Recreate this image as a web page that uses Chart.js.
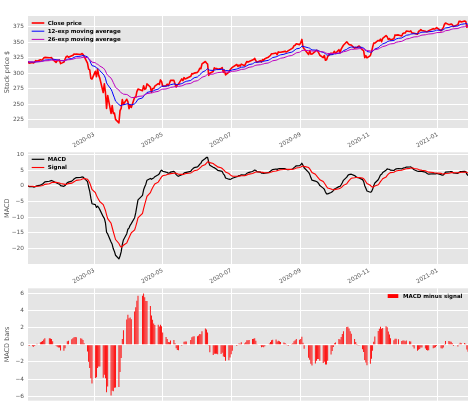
<!DOCTYPE html>
<html><head><meta charset="utf-8">
<script src="https://cdn.jsdelivr.net/npm/chart.js@4.4.1/dist/chart.umd.min.js"></script>
<style>
html,body{margin:0;padding:0;background:#fff;}
#wrap{position:relative;width:474px;height:408px;overflow:hidden;background:#fff;}
canvas{position:absolute;left:0;}
</style></head><body>
<div id="wrap">
<canvas id="c1" width="474" height="152" style="top:0px"></canvas>
<canvas id="c2" width="474" height="136" style="top:152px"></canvas>
<canvas id="c3" width="474" height="120" style="top:288px"></canvas>
</div>
<script>
// ---- data (SPY daily close, trading days 2020-01-02 .. 2021-01-28) ----
const firstDay = '2020-01-02';
const lastDay = '2021-01-28';
const holidays = ['2020-01-20','2020-02-17','2020-04-10','2020-05-25','2020-07-03','2020-09-07','2020-11-26','2020-12-25','2021-01-01','2021-01-18'];
const monthTicks = ['2020-03','2020-05','2020-07','2020-09','2020-11','2021-01'];
const priceTicks = [225,250,275,300,325,350,375];
const macdTicks = [-20,-15,-10,-5,0,5,10];
const barTicks = [-6,-4,-2,0,2,4,6];

const closePrice = [
318.9,316.5,317.7,316.8,318.5,320.7,319.7,321.9,321.5,322.2,324.9,325.9,325.2,325.3,325.6,322.7,317.6,320.9,320.6,321.7,315.8,
318.2,323.0,326.8,327.9,326.1,328.6,329.1,331.2,330.9,331.4,330.6,332.1,330.8,327.4,316.5,306.9,305.8,292.1,290.8,
303.4,294.7,307.1,296.9,292.0,269.2,283.1,269.3,243.6,264.4,235.5,248.2,235.6,236.1,225.9,220.2,240.1,243.7,257.9,250.3,258.4,254.5,
243.1,248.7,245.1,261.5,261.8,270.6,274.7,272.2,280.2,274.3,275.6,283.1,278.1,269.6,275.6,275.6,279.4,283.5,282.2,289.5,286.9,
279.3,280.0,282.6,280.7,284.1,288.8,288.8,283.1,278.1,281.5,282.7,291.3,288.3,293.2,291.2,291.7,295.3,299.7,299.2,300.5,
301.7,304.2,308.3,307.5,315.3,319.2,316.8,315.0,296.9,300.4,303.2,309.0,307.8,307.9,306.7,308.1,309.5,301.6,304.8,297.6,302.0,305.8,
308.0,309.7,314.4,311.2,313.6,311.8,315.0,312.3,316.3,319.2,318.2,319.1,321.7,322.3,324.2,320.3,318.2,320.6,318.5,322.5,321.3,323.8,
326.1,327.4,329.4,331.6,331.8,332.8,330.1,334.7,334.1,334.1,335.1,335.9,334.5,335.5,336.7,340.1,341.3,344.7,345.5,347.7,346.4,
349.7,354.8,342.6,339.8,330.5,337.0,331.2,331.3,335.7,337.4,336.0,333.1,329.3,325.6,328.9,321.3,322.1,327.4,332.8,331.0,333.5,
335.6,332.4,338.3,333.5,339.3,342.3,345.4,351.0,348.7,346.5,346.0,345.8,340.6,341.9,341.3,343.2,344.3,338.0,336.8,325.3,328.6,325.2,
328.8,334.6,342.1,348.8,348.7,353.1,352.5,355.2,351.1,356.6,361.0,359.1,354.8,356.3,353.8,356.0,362.1,361.7,362.1,360.5,
364.5,365.2,365.1,368.3,367.5,368.6,365.3,365.2,364.8,363.1,368.0,368.6,370.7,369.2,367.9,367.2,367.6,369.0,372.2,371.5,372.0,373.9,
368.8,371.3,373.6,379.1,381.3,378.7,378.8,379.8,378.5,375.7,378.7,383.9,384.2,382.9,384.4,383.8,374.4,377.6];

const ema12 = [
318.9,318.5,318.4,318.2,318.2,318.6,318.8,319.2,319.6,320.0,320.7,321.5,322.1,322.6,323.1,323.0,322.2,322.0,321.8,321.8,320.8,
320.4,320.8,321.7,322.7,323.2,324.0,324.8,325.8,326.6,327.3,327.8,328.5,328.8,328.6,326.8,323.7,320.9,316.5,312.6,
311.1,308.6,308.4,306.6,304.4,299.0,296.5,292.3,284.8,281.7,274.6,270.5,265.2,260.7,255.3,249.9,248.4,247.7,249.3,249.4,250.8,251.4,
250.1,249.9,249.1,251.0,252.7,255.5,258.4,260.5,263.6,265.2,266.8,269.3,270.7,270.5,271.3,272.0,273.1,274.7,275.9,278.0,279.3,
279.3,279.4,279.9,280.0,280.7,281.9,283.0,283.0,282.2,282.1,282.2,283.6,284.3,285.7,286.5,287.3,288.6,290.3,291.6,293.0,
294.3,295.9,297.8,299.3,301.7,304.4,306.3,307.7,306.0,305.1,304.8,305.5,305.8,306.2,306.2,306.5,307.0,306.2,305.9,304.7,304.3,304.5,
305.0,305.7,307.1,307.7,308.6,309.1,310.0,310.4,311.3,312.5,313.4,314.3,315.4,316.5,317.7,318.1,318.1,318.5,318.5,319.1,319.4,320.1,
321.0,322.0,323.1,324.4,325.6,326.7,327.2,328.4,329.2,330.0,330.8,331.6,332.0,332.6,333.2,334.3,335.3,336.8,338.1,339.6,340.6,
342.0,344.0,343.8,343.2,341.2,340.6,339.1,337.9,337.6,337.6,337.3,336.7,335.5,334.0,333.2,331.4,330.0,329.6,330.1,330.2,330.7,
331.5,331.6,332.6,332.8,333.8,335.1,336.7,338.9,340.4,341.3,342.0,342.6,342.3,342.3,342.1,342.3,342.6,341.9,341.1,338.7,337.1,335.3,
334.3,334.3,335.5,337.6,339.3,341.4,343.1,345.0,345.9,347.6,349.6,351.1,351.7,352.4,352.6,353.1,354.5,355.6,356.6,357.2,
358.3,359.4,360.3,361.5,362.4,363.4,363.7,363.9,364.0,363.9,364.5,365.2,366.0,366.5,366.7,366.8,366.9,367.2,368.0,368.5,369.1,369.8,
369.7,369.9,370.5,371.8,373.3,374.1,374.8,375.6,376.0,376.0,376.4,377.6,378.6,379.2,380.0,380.6,379.7,379.3];

const ema26 = [
318.9,318.7,318.6,318.5,318.5,318.7,318.7,319.0,319.2,319.4,319.8,320.3,320.6,321.0,321.3,321.4,321.1,321.1,321.1,321.1,320.7,
320.5,320.7,321.2,321.7,322.0,322.5,323.0,323.6,324.1,324.7,325.1,325.6,326.0,326.1,325.4,324.0,322.7,320.4,318.2,
317.1,315.5,314.8,313.5,311.9,308.8,306.9,304.1,299.6,297.0,292.4,289.2,285.2,281.6,277.4,273.2,270.7,268.7,267.9,266.6,266.0,265.2,
263.5,262.4,261.1,261.2,261.2,261.9,262.9,263.6,264.8,265.5,266.2,267.5,268.3,268.4,268.9,269.4,270.1,271.1,272.0,273.3,274.3,
274.6,275.0,275.6,276.0,276.6,277.5,278.3,278.7,278.6,278.8,279.1,280.0,280.6,281.6,282.3,283.0,283.9,285.1,286.1,287.2,
288.3,289.4,290.8,292.1,293.8,295.7,297.2,298.6,298.4,298.6,298.9,299.7,300.3,300.8,301.3,301.8,302.3,302.3,302.5,302.1,302.1,302.4,
302.8,303.3,304.1,304.7,305.3,305.8,306.5,306.9,307.6,308.5,309.2,309.9,310.8,311.6,312.6,313.1,313.5,314.0,314.4,315.0,315.4,316.1,
316.8,317.6,318.5,319.4,320.4,321.3,321.9,322.9,323.7,324.5,325.3,326.1,326.7,327.3,328.0,328.9,329.8,330.9,332.0,333.2,334.2,
335.3,336.8,337.2,337.4,336.9,336.9,336.5,336.1,336.1,336.2,336.1,335.9,335.4,334.7,334.3,333.3,332.5,332.1,332.2,332.1,332.2,
332.4,332.4,332.9,332.9,333.4,334.0,334.9,336.1,337.0,337.7,338.3,338.9,339.0,339.2,339.4,339.7,340.0,339.9,339.6,338.6,337.8,336.9,
336.3,336.2,336.6,337.5,338.3,339.4,340.4,341.5,342.2,343.3,344.6,345.7,346.3,347.1,347.6,348.2,349.2,350.2,351.0,351.7,
352.7,353.6,354.5,355.5,356.4,357.3,357.9,358.4,358.9,359.2,359.9,360.5,361.3,361.8,362.3,362.7,363.0,363.5,364.1,364.7,365.2,365.8,
366.1,366.5,367.0,367.9,368.9,369.6,370.3,371.0,371.5,371.9,372.4,373.2,374.0,374.7,375.4,376.0,375.9,376.0];

const macd = [
0,-0.19,-0.24,-0.35,-0.30,-0.08,0.02,0.27,0.43,0.60,0.95,1.29,1.49,1.63,1.75,1.59,1.04,0.86,0.69,0.63,0.11,
-0.11,0.11,0.58,1.02,1.22,1.56,1.85,2.22,2.46,2.66,2.73,2.87,2.84,2.51,1.36,-0.33,-1.73,-3.90,-5.67,
-5.98,-6.84,-6.46,-6.90,-7.55,-9.80,-10.34,-11.74,-14.76,-15.30,-17.85,-18.63,-20.04,-20.87,-22.10,-23.27,-22.33,-21.05,-18.68,-17.21,-15.22,-13.80,
-13.43,-12.55,-12.00,-10.13,-8.52,-6.46,-4.45,-3.02,-1.23,-0.28,0.57,1.83,2.39,2.13,2.38,2.55,2.95,3.56,3.90,4.70,5.06,
4.69,4.39,4.32,4.06,4.09,4.43,4.65,4.32,3.61,3.28,3.08,3.58,3.69,4.12,4.26,4.35,4.67,5.21,5.54,5.83,
6.09,6.43,6.94,7.20,7.95,8.75,9.09,9.11,7.58,6.57,5.93,5.82,5.57,5.32,4.97,4.75,4.64,3.87,3.47,2.55,2.15,2.11,
2.23,2.44,2.95,3.06,3.30,3.31,3.54,3.46,3.67,4.03,4.19,4.34,4.61,4.82,5.08,4.91,4.56,4.42,4.10,4.12,3.99,4.04,
4.22,4.42,4.68,5.01,5.22,5.41,5.28,5.49,5.54,5.52,5.51,5.51,5.34,5.22,5.17,5.33,5.50,5.84,6.10,6.42,6.48,
6.73,7.25,6.60,5.79,4.35,3.69,2.67,1.85,1.53,1.41,1.18,0.75,0.11,-0.69,-1.05,-1.92,-2.52,-2.54,-2.09,-1.86,-1.46,
-0.96,-0.82,-0.22,-0.14,0.39,1.04,1.79,2.80,3.38,3.61,3.72,3.74,3.30,3.03,2.73,2.61,2.58,2.02,1.47,0.10,-0.71,-1.61,
-2.01,-1.83,-1.08,0.06,0.94,1.98,2.71,3.48,3.71,4.29,5.04,5.42,5.32,5.29,5.02,4.92,5.27,5.45,5.57,5.47,
5.64,5.77,5.80,6.01,6.05,6.09,5.79,5.49,5.15,4.69,4.67,4.65,4.75,4.65,4.42,4.13,3.89,3.77,3.89,3.88,3.87,3.97,
3.59,3.46,3.49,3.92,4.39,4.50,4.54,4.60,4.49,4.13,4.04,4.34,4.55,4.56,4.63,4.59,3.75,3.31];

const signal = [
0,-0.04,-0.08,-0.13,-0.17,-0.15,-0.12,-0.04,0.05,0.16,0.32,0.51,0.71,0.89,1.06,1.17,1.14,1.09,1.01,0.93,0.77,
0.59,0.50,0.51,0.61,0.74,0.90,1.09,1.32,1.54,1.77,1.96,2.14,2.28,2.33,2.13,1.64,0.97,-0.01,-1.14,
-2.11,-3.05,-3.74,-4.37,-5.00,-5.96,-6.84,-7.82,-9.21,-10.43,-11.91,-13.25,-14.61,-15.86,-17.11,-18.34,-19.14,-19.52,-19.35,-18.92,-18.18,-17.31,
-16.53,-15.74,-14.99,-14.02,-12.92,-11.63,-10.19,-8.76,-7.25,-5.86,-4.57,-3.29,-2.15,-1.30,-0.56,0.06,0.64,1.22,1.76,2.35,2.89,
3.25,3.48,3.65,3.73,3.80,3.93,4.07,4.12,4.02,3.87,3.71,3.69,3.69,3.77,3.87,3.97,4.11,4.33,4.57,4.82,
5.08,5.35,5.67,5.97,6.37,6.85,7.29,7.66,7.64,7.43,7.13,6.86,6.61,6.35,6.08,5.81,5.58,5.23,4.88,4.41,3.96,3.59,
3.32,3.14,3.10,3.10,3.14,3.17,3.24,3.29,3.36,3.50,3.64,3.78,3.94,4.12,4.31,4.43,4.46,4.45,4.38,4.33,4.26,4.22,
4.22,4.26,4.34,4.47,4.62,4.78,4.88,5.00,5.11,5.19,5.25,5.31,5.31,5.29,5.27,5.28,5.33,5.43,5.56,5.73,5.88,
6.05,6.29,6.35,6.24,5.86,5.43,4.88,4.27,3.72,3.26,2.84,2.43,1.96,1.43,0.94,0.37,-0.21,-0.68,-0.96,-1.14,-1.20,
-1.16,-1.09,-0.92,-0.76,-0.53,-0.21,0.19,0.71,1.24,1.72,2.12,2.44,2.61,2.70,2.70,2.68,2.66,2.54,2.32,1.88,1.36,0.77,
0.21,-0.20,-0.38,-0.29,-0.04,0.36,0.83,1.36,1.83,2.32,2.87,3.38,3.77,4.07,4.26,4.39,4.57,4.74,4.91,5.02,
5.15,5.27,5.38,5.50,5.61,5.71,5.73,5.68,5.57,5.40,5.25,5.13,5.06,4.97,4.86,4.72,4.55,4.40,4.29,4.21,4.14,4.11,
4.00,3.89,3.81,3.84,3.95,4.06,4.15,4.24,4.29,4.26,4.22,4.24,4.30,4.35,4.41,4.44,4.31,4.11];

const macdBars = [
0,-0.15,-0.16,-0.22,-0.13,0.07,0.13,0.31,0.37,0.44,0.63,0.78,0.78,0.74,0.69,0.42,-0.10,-0.22,-0.32,-0.30,-0.66,
-0.70,-0.39,0.06,0.41,0.49,0.66,0.76,0.90,0.92,0.89,0.77,0.72,0.56,0.19,-0.77,-1.97,-2.70,-3.90,-4.53,
-3.87,-3.79,-2.72,-2.53,-2.55,-3.84,-3.50,-3.92,-5.55,-4.87,-5.94,-5.38,-5.43,-5.01,-4.99,-4.93,-3.19,-1.53,0.68,1.71,2.96,3.51,
3.10,3.19,2.99,3.89,4.40,5.17,5.74,5.74,6.02,5.58,5.14,5.12,4.55,3.43,2.94,2.49,2.31,2.34,2.14,2.35,2.17,
1.44,0.92,0.68,0.33,0.29,0.51,0.58,0.20,-0.41,-0.59,-0.63,-0.11,0.00,0.35,0.39,0.39,0.56,0.88,0.97,1.01,
1.02,1.08,1.28,1.23,1.58,1.91,1.80,1.45,-0.07,-0.86,-1.20,-1.05,-1.03,-1.03,-1.10,-1.06,-0.94,-1.37,-1.41,-1.87,-1.81,-1.48,
-1.09,-0.70,-0.15,-0.04,0.17,0.14,0.29,0.17,0.31,0.54,0.55,0.56,0.67,0.70,0.77,0.48,0.11,-0.03,-0.28,-0.21,-0.27,-0.17,
0.00,0.16,0.34,0.53,0.60,0.63,0.40,0.49,0.43,0.33,0.26,0.21,0.03,-0.07,-0.10,0.05,0.18,0.41,0.54,0.68,0.60,
0.67,0.95,0.25,-0.45,-1.51,-1.74,-2.21,-2.42,-2.19,-1.85,-1.67,-1.67,-1.85,-2.12,-1.98,-2.29,-2.31,-1.86,-1.13,-0.72,-0.26,
0.19,0.27,0.69,0.62,0.92,1.26,1.60,2.09,2.13,1.90,1.60,1.30,0.69,0.33,0.02,-0.07,-0.08,-0.51,-0.85,-1.78,-2.07,-2.38,
-2.22,-1.64,-0.70,0.35,0.99,1.61,1.88,2.12,1.88,1.97,2.18,2.05,1.55,1.22,0.76,0.53,0.70,0.71,0.66,0.45,
0.50,0.50,0.42,0.51,0.43,0.38,0.07,-0.19,-0.42,-0.70,-0.58,-0.48,-0.31,-0.32,-0.44,-0.59,-0.66,-0.63,-0.41,-0.33,-0.27,-0.14,
-0.41,-0.44,-0.32,0.09,0.44,0.44,0.39,0.36,0.20,-0.13,-0.18,0.10,0.25,0.20,0.22,0.14,-0.55,-0.80];

// ---- calendar of trading days (x positions in days since firstDay) ----
const DAY = 86400000;
function utc(s) { const p = s.split('-').map(Number); return Date.UTC(p[0], p[1] - 1, p[2] || 1); }
const t0 = utc(firstDay);
const dayNum = s => (utc(s) - t0) / DAY;
const tradingDays = [];
for (let t = 0; t <= dayNum(lastDay); t++) {
  const d = new Date(t0 + t * DAY);
  const iso = d.toISOString().slice(0, 10);
  const wd = d.getUTCDay();
  if (wd === 0 || wd === 6 || holidays.includes(iso)) continue;
  tradingDays.push(iso);
}
const xs = tradingDays.map(dayNum);
const pts = arr => arr.map((v, i) => ({x: xs[i], y: v}));
const monthX = monthTicks.map(m => dayNum(m + '-01'));
const xMax = dayNum(lastDay);

// ---- styling ----
Chart.defaults.font.family = "'DejaVu Sans', sans-serif";
const FONT = "'DejaVu Sans', sans-serif";
const fmt = v => (v < 0 ? '\u2212' + Math.abs(v) : String(v));

const bgPlugin = {
  id: 'bgPlugin',
  beforeDraw(chart) {
    const {ctx, chartArea: a} = chart;
    ctx.save();
    ctx.fillStyle = '#E5E5E5';
    ctx.fillRect(a.left, a.top, a.right - a.left, a.bottom - a.top);
    ctx.restore();
  }
};

const lineLegend = {
  id: 'lineLegend',
  afterDraw(chart) {
    const {ctx, chartArea: a} = chart;
    ctx.save();
    ctx.font = 'bold 5.5px ' + FONT;
    ctx.textBaseline = 'middle';
    ctx.textAlign = 'left';
    chart.data.datasets.forEach((ds, i) => {
      const y = a.top + 7 + i * 8.2;
      const x0 = a.left + 3.7;
      ctx.strokeStyle = ds.borderColor;
      ctx.lineWidth = ds.borderWidth;
      ctx.beginPath(); ctx.moveTo(x0, y); ctx.lineTo(x0 + 12.6, y); ctx.stroke();
      ctx.fillStyle = '#000';
      ctx.fillText(ds.label, x0 + 16, y + 0.3);
    });
    ctx.restore();
  }
};

const barLegend = {
  id: 'barLegend',
  afterDraw(chart) {
    const {ctx, chartArea: a} = chart;
    const ds = chart.data.datasets[0];
    ctx.save();
    ctx.fillStyle = ds.backgroundColor;
    ctx.fillRect(a.right - 80.3, a.top + 5.8, 10.6, 3.9);
    ctx.font = 'bold 5.5px ' + FONT;
    ctx.textBaseline = 'middle';
    ctx.textAlign = 'left';
    ctx.fillStyle = '#000';
    ctx.fillText(ds.label, a.right - 65, a.top + 8);
    ctx.restore();
  }
};

function makeOptions(cfg) {
  return {
    responsive: false, animation: false, devicePixelRatio: 1,
    layout: {padding: {left: 0, right: 6, top: cfg.padTop, bottom: 0}},
    plugins: {legend: {display: false}, tooltip: {enabled: false}},
    elements: {point: {radius: 0}, line: {tension: 0}},
    scales: {
      x: {
        type: 'linear', min: 0, max: xMax, offset: false,
        grid: {color: '#FFFFFF', lineWidth: 1, drawTicks: false, offset: false},
        border: {display: false},
        afterBuildTicks: s => { s.ticks = monthX.map(v => ({value: v})); },
        afterFit: s => { s.height = cfg.xH; s.paddingLeft = 0; s.paddingRight = 0; },
        ticks: {
          display: cfg.showX, autoSkip: false, minRotation: 30, maxRotation: 30,
          padding: 3, color: '#555555', font: {size: 5.8},
          callback: (v, i) => monthTicks[i]
        }
      },
      y: {
        min: cfg.yMin, max: cfg.yMax,
        grid: {color: '#FFFFFF', lineWidth: 1, drawTicks: false},
        border: {display: false},
        afterBuildTicks: s => { s.ticks = cfg.yTicks.map(v => ({value: v})); },
        afterFit: s => { s.width = 28; s.paddingTop = 0; s.paddingBottom = 0; },
        ticks: {padding: 4, color: '#555555', font: {size: 5.8}, callback: v => fmt(v)},
        title: {display: true, text: cfg.yTitle, color: '#555555', font: {size: 6.5}, padding: {top: 3, bottom: 0}}
      }
    }
  };
}

new Chart(document.getElementById('c1'), {
  type: 'line',
  data: {datasets: [
    {label: 'Close price', data: pts(closePrice), borderColor: '#FF0000', borderWidth: 1.6, order: 3, borderJoinStyle: 'round'},
    {label: '12-exp moving average', data: pts(ema12), borderColor: '#0000FF', borderWidth: 1.0, order: 2},
    {label: '26-exp moving average', data: pts(ema26), borderColor: '#BF00BF', borderWidth: 1.0, order: 1}
  ]},
  options: makeOptions({padTop: 16, xH: 24, showX: true, yMin: 212.0, yMax: 392.6, yTicks: priceTicks, yTitle: 'Stock price $'}),
  plugins: [bgPlugin, lineLegend]
});

new Chart(document.getElementById('c2'), {
  type: 'line',
  data: {datasets: [
    {label: 'MACD', data: pts(macd), borderColor: '#000000', borderWidth: 1.2, order: 2, borderJoinStyle: 'round'},
    {label: 'Signal', data: pts(signal), borderColor: '#FF0000', borderWidth: 1.1, order: 1}
  ]},
  options: makeOptions({padTop: 0.3, xH: 24, showX: true, yMin: -24.89, yMax: 10.73, yTicks: macdTicks, yTitle: 'MACD'}),
  plugins: [bgPlugin, lineLegend]
});

new Chart(document.getElementById('c3'), {
  type: 'bar',
  data: {datasets: [
    {label: 'MACD minus signal', data: pts(macdBars), backgroundColor: '#FF0000', borderWidth: 0, barThickness: 0.9, inflateAmount: 0}
  ]},
  options: makeOptions({padTop: 0.3, xH: 7.3, showX: false, yMin: -6.54, yMax: 6.62, yTicks: barTicks, yTitle: 'MACD bars'}),
  plugins: [bgPlugin, barLegend]
});
</script>
</body></html>
